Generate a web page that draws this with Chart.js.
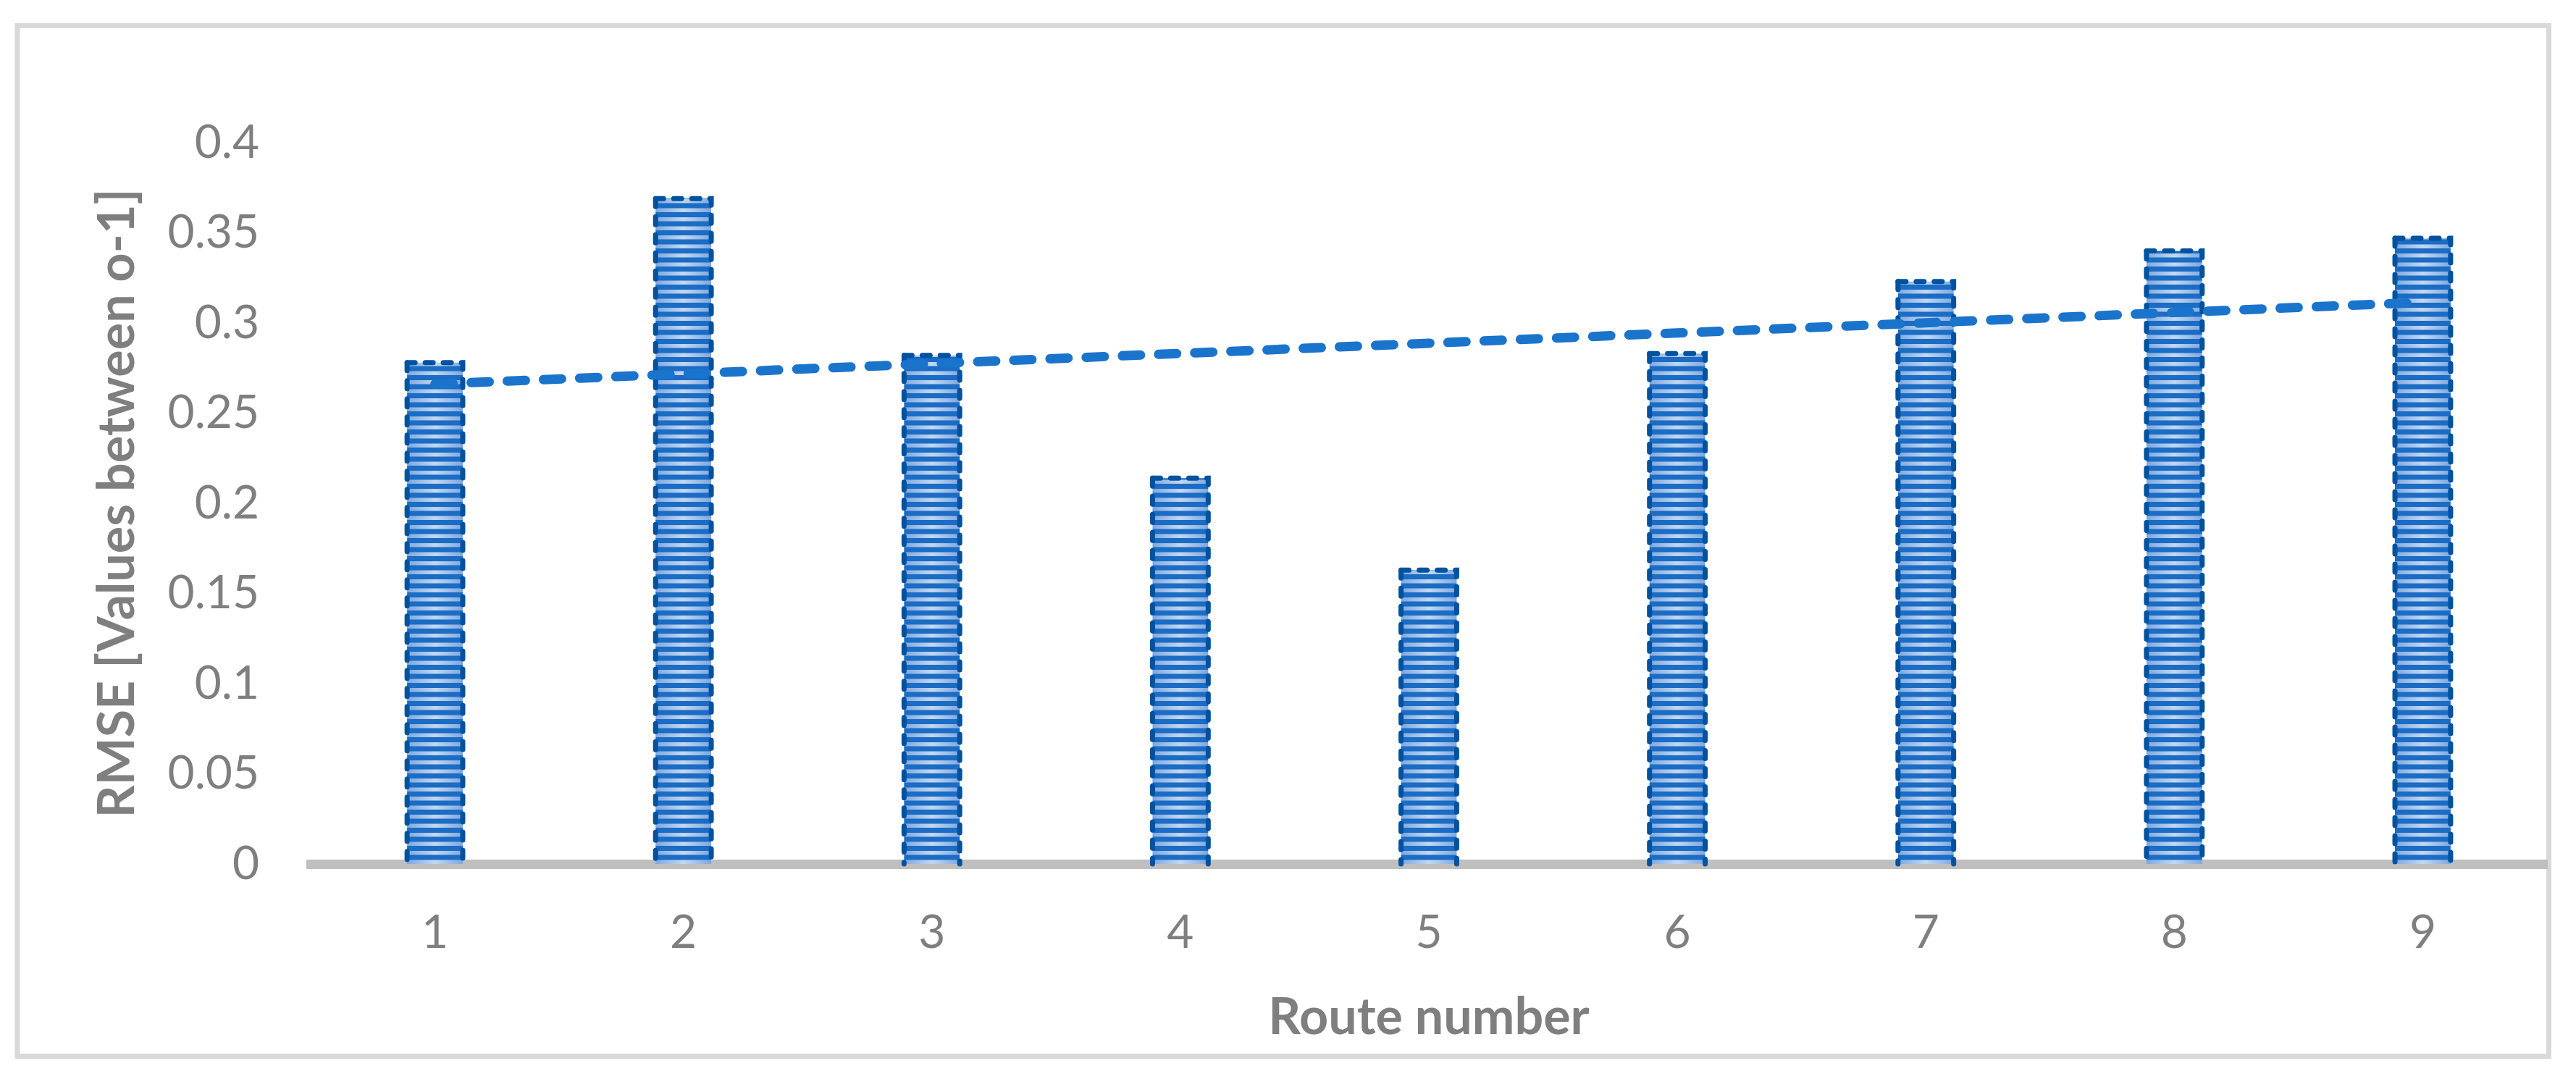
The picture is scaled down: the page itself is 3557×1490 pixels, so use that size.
<!DOCTYPE html>
<html>
<head>
    <title>RMSE per route</title>
    <script src="https://cdn.jsdelivr.net/npm/chart.js"></script>
    <style>
        body { margin: 0; background: #fff; }
    </style>
</head>
<body>
    <canvas id="rmse-chart" width="3557" height="1490"></canvas>

    <script>
        // Values
        const routes = ['1', '2', '3', '4', '5', '6', '7', '8', '9'];
        const rmse = [0.278, 0.369, 0.282, 0.214, 0.163, 0.283, 0.323, 0.340, 0.347];
        const yTickLabels = ['0', '0.05', '0.1', '0.15', '0.2', '0.25', '0.3', '0.35', '0.4'];

        const BAR_PCT = 0.224;
        const GREY = '#7f7f7f';

        // Linear trendline (least squares), like the spreadsheet one
        function linearTrend(ys) {
            const n = ys.length;
            let sx = 0, sy = 0, sxy = 0, sxx = 0;
            ys.forEach((y, i) => {
                const x = i + 1;
                sx += x; sy += y; sxy += x * y; sxx += x * x;
            });
            const slope = (n * sxy - sx * sy) / (n * sxx - sx * sx);
            const icpt = (sy - slope * sx) / n;
            return ys.map((y, i) => icpt + slope * (i + 1));
        }

        // Horizontal stripe fill with a light band in the middle of each bar
        const patternCache = {};
        function stripeFill(c) {
            const chart = c.chart;
            const area = chart.chartArea;
            const xs = chart.scales.x;
            if (!area || !xs) return '#1f6fc6';
            const w = Math.max(2, Math.round(xs.width / routes.length * BAR_PCT));
            const cx = xs.getPixelForValue(c.dataIndex);
            const left = cx - w / 2;

            let tile = patternCache[w];
            if (!tile) {
                tile = document.createElement('canvas');
                tile.width = w;
                tile.height = 25;
                const t = tile.getContext('2d');
                t.fillStyle = '#1b6cc4';
                t.fillRect(0, 0, w, 25);
                const g = t.createLinearGradient(0, 0, w, 0);
                g.addColorStop(0, '#7fa8e0');
                g.addColorStop(0.5, '#c3d8f1');
                g.addColorStop(1, '#7fa8e0');
                t.fillStyle = g;
                t.fillRect(0, 7, w, 5.5);
                t.fillRect(0, 19.5, w, 5.5);
                patternCache[w] = tile;
            }
            const pat = chart.ctx.createPattern(tile, 'repeat');
            pat.setTransform(new DOMMatrix().translate(left, area.bottom));
            return pat;
        }

        // Outer light grey frame
        const framePlugin = {
            id: 'frame',
            beforeDraw(chart) {
                const ctx = chart.ctx;
                ctx.save();
                ctx.fillStyle = '#ffffff';
                ctx.fillRect(0, 0, chart.width, chart.height);
                ctx.strokeStyle = '#d9d9d9';
                ctx.lineWidth = 7;
                ctx.strokeRect(24, 35.5, 3519.5 - 24, 1458.5 - 35.5);
                ctx.restore();
            }
        };

        // Dashed dark blue outline around each bar
        const dashedBorder = {
            id: 'dashedBorder',
            afterDatasetDraw(chart, args) {
                if (args.index !== 0) return;
                const ctx = chart.ctx;
                ctx.save();
                ctx.strokeStyle = '#00529f';
                ctx.lineWidth = 7;
                ctx.lineCap = 'round';
                ctx.setLineDash([11, 14]);
                args.meta.data.forEach(el => {
                    const p = el.getProps(['x', 'y', 'base', 'width'], true);
                    const l = p.x - p.width / 2, r = p.x + p.width / 2;
                    ctx.beginPath();
                    ctx.moveTo(l, p.y);
                    ctx.lineTo(r, p.y);
                    ctx.lineTo(r, p.base);
                    ctx.stroke();
                    ctx.beginPath();
                    ctx.moveTo(l, p.y);
                    ctx.lineTo(l, p.base);
                    ctx.stroke();
                });
                ctx.restore();
            }
        };

        function draw() {
            const ctx = document.getElementById('rmse-chart').getContext('2d');
            new Chart(ctx, {
                type: 'bar',
                data: {
                    labels: routes,
                    datasets: [{
                        label: 'RMSE',
                        data: rmse,
                        order: 1,
                        backgroundColor: stripeFill,
                        borderWidth: 0,
                        categoryPercentage: 1,
                        barPercentage: BAR_PCT
                    }, {
                        type: 'line',
                        label: 'Linear (RMSE)',
                        data: linearTrend(rmse),
                        order: 0,
                        borderColor: '#1a74cc',
                        borderWidth: 13,
                        borderDash: [25, 25],
                        borderCapStyle: 'round',
                        pointRadius: 0,
                        fill: false,
                        tension: 0
                    }]
                },
                options: {
                    responsive: false,
                    animation: false,
                    devicePixelRatio: 1,
                    layout: { padding: { left: 0, top: 197, right: 40, bottom: 0 } },
                    plugins: {
                        legend: { display: false },
                        tooltip: { enabled: false }
                    },
                    scales: {
                        x: {
                            z: 1,
                            grid: { display: false, drawTicks: false, tickLength: 0 },
                            border: { display: true, color: '#bfbfbf', width: 13 },
                            ticks: {
                                color: GREY,
                                padding: 57,
                                font: { family: 'Lato', size: 64 }
                            },
                            title: {
                                display: true,
                                text: 'Route number',
                                color: GREY,
                                font: { family: 'Lato', size: 70, weight: 'bold' },
                                padding: { top: 0, bottom: 43 }
                            },
                            afterFit(scale) { scale.height = 297; }
                        },
                        y: {
                            min: 0,
                            max: 0.4,
                            grid: { display: false, drawTicks: false, tickLength: 0 },
                            border: { display: false },
                            ticks: {
                                stepSize: 0.05,
                                color: GREY,
                                padding: 71,
                                font: { family: 'Lato', size: 64 },
                                callback: (v, i) => yTickLabels[i]
                            },
                            title: {
                                display: true,
                                text: 'RMSE [Values between o-1]',
                                color: GREY,
                                font: { family: 'Lato', size: 70, weight: 'bold' },
                                padding: { top: 120, bottom: 0 }
                            },
                            afterFit(scale) { scale.width = 429; }
                        }
                    }
                },
                plugins: [framePlugin, dashedBorder]
            });
        }

        Promise.all([
            document.fonts.load('64px Lato'),
            document.fonts.load('bold 70px Lato')
        ]).then(draw, draw);
    </script>
</body>
</html>
